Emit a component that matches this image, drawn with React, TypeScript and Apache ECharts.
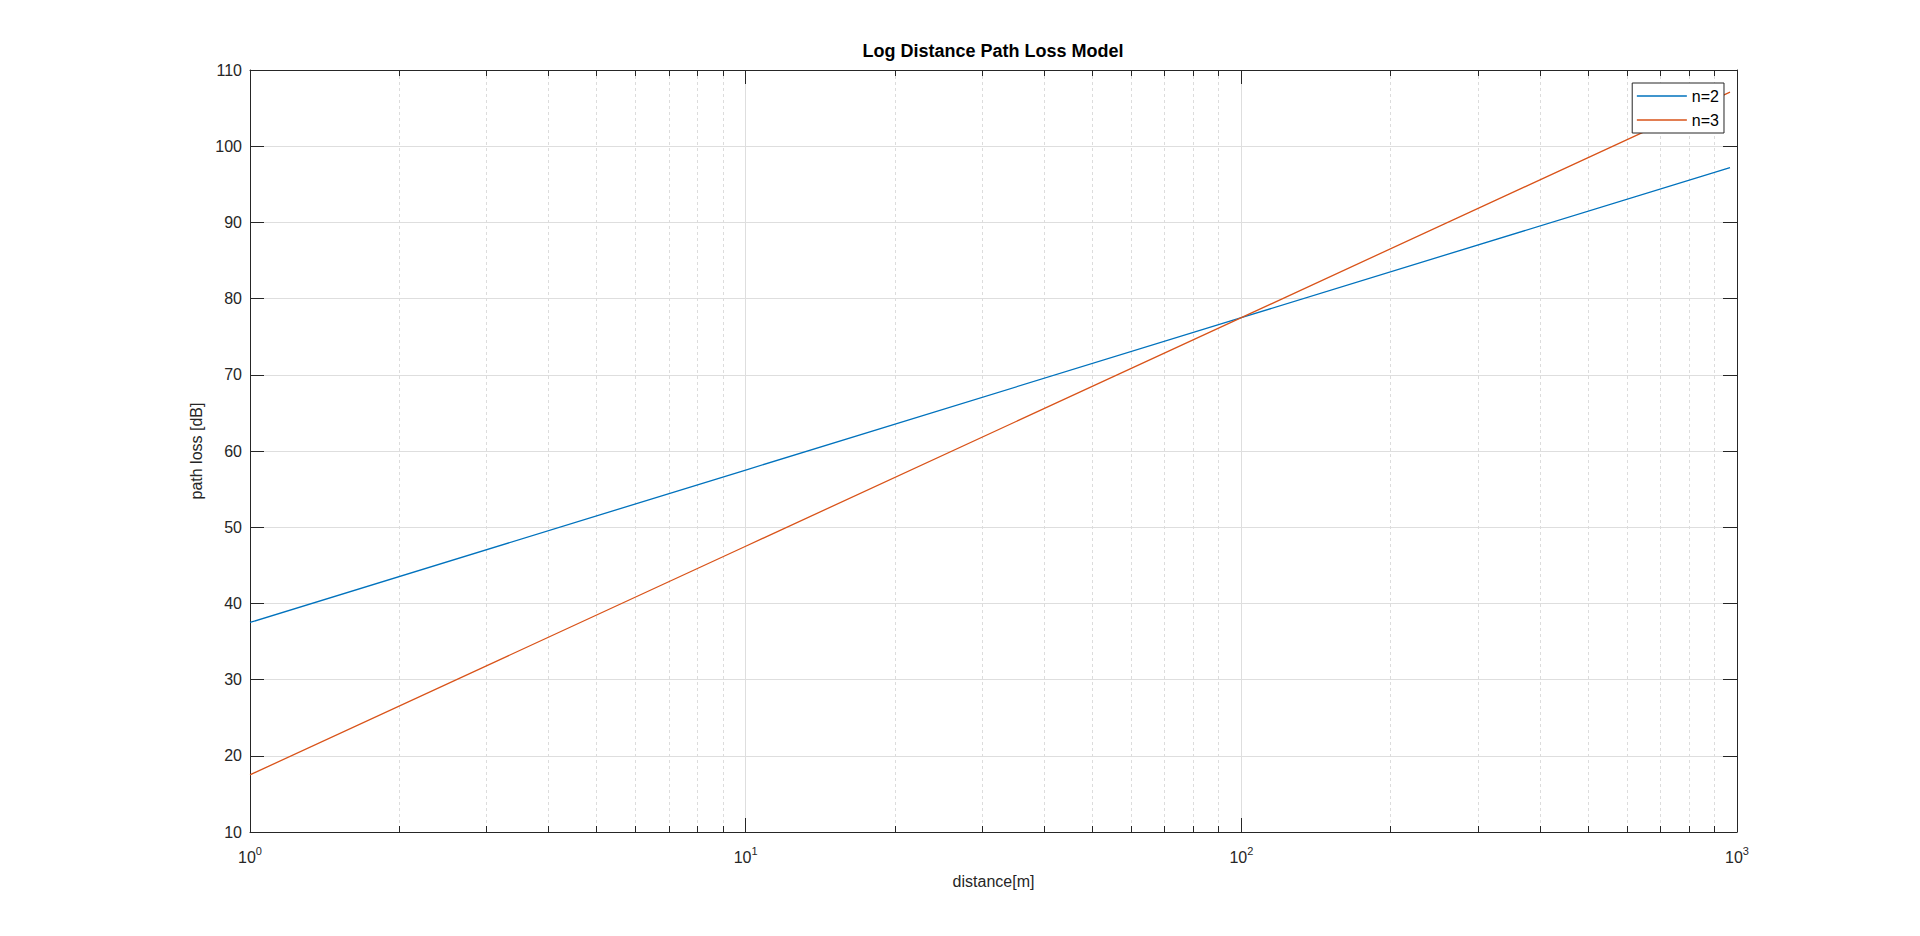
import React, { useEffect, useRef } from "react";
import * as echarts from "echarts";

// distance [m]
const distances: number[] = [1, 10, 100, 968];
// path loss [dB]
const lossN2: number[] = [37.5, 57.5, 77.5, 97.2];
const lossN3: number[] = [17.5, 47.5, 77.5, 107.1];
const seriesNames: string[] = ["n=2", "n=3"];
const yTicks = { min: 10, max: 110, interval: 10 };
const xRange = { min: 1, max: 1000 };

const FONT = "'Liberation Sans', Arial, Helvetica, sans-serif";
const AX = "#262626";
const GRID_MAJOR = "#dedede";
const GRID_MINOR = "#dcdcdc";

export default function App() {
  const ref = useRef<HTMLDivElement>(null);

  useEffect(() => {
    if (!ref.current) return;
    const chart = echarts.init(ref.current, undefined, { renderer: "svg" });

    const pair = (xs: number[], ys: number[]) => xs.map((x, i) => [x, ys[i]]);

    const xLabel = {
      show: true,
      margin: 13,
      formatter: (v: number) => {
        const e = Math.round(Math.log10(v));
        return `{b|10}{s|${e}}`;
      },
      rich: {
        b: { fontSize: 16, fontFamily: FONT, color: AX, lineHeight: 20, verticalAlign: "bottom" },
        s: { fontSize: 11, fontFamily: FONT, color: AX, lineHeight: 12, verticalAlign: "top" },
      },
    };

    const baseX = (pos: "bottom" | "top", main: boolean) => ({
      type: "log",
      logBase: 10,
      min: xRange.min,
      max: xRange.max,
      position: pos,
      gridIndex: 0,
      name: main ? "distance[m]" : "",
      nameLocation: "middle",
      nameGap: 41,
      nameTextStyle: { fontSize: 16, fontFamily: FONT, color: AX },
      axisLine: { show: true, onZero: false, lineStyle: { color: AX, width: 1 } },
      axisTick: { show: true, inside: true, length: 14, lineStyle: { color: AX, width: 1 } },
      minorTick: { show: true, splitNumber: 9, length: 6, lineStyle: { color: AX, width: 1 } },
      axisLabel: main ? xLabel : { show: false },
      splitLine: { show: main, lineStyle: { color: GRID_MAJOR, width: 1, type: "solid" } },
      minorSplitLine: { show: main, lineStyle: { color: GRID_MINOR, width: 1, type: [3, 3] } },
    });

    const baseY = (pos: "left" | "right", main: boolean) => ({
      type: "value",
      min: yTicks.min,
      max: yTicks.max,
      interval: yTicks.interval,
      position: pos,
      gridIndex: 0,
      name: main ? "path loss [dB]" : "",
      nameLocation: "middle",
      nameGap: 40,
      nameTextStyle: { fontSize: 16, fontFamily: FONT, color: AX },
      axisLine: { show: true, onZero: false, lineStyle: { color: AX, width: 1 } },
      axisTick: { show: true, inside: true, length: 14, lineStyle: { color: AX, width: 1 } },
      axisLabel: main
        ? { show: true, margin: 8, fontSize: 16, fontFamily: FONT, color: AX }
        : { show: false },
      splitLine: { show: main, lineStyle: { color: GRID_MAJOR, width: 1, type: "solid" } },
    });

    chart.setOption({
      animation: false,
      backgroundColor: "#ffffff",
      title: {
        text: "Log Distance Path Loss Model",
        left: 993,
        textAlign: "center",
        top: 42,
        padding: 0,
        textStyle: { fontSize: 18, fontWeight: "bold", fontFamily: FONT, color: "#000000" },
      },
      legend: {
        orient: "vertical",
        right: 196,
        top: 83,
        padding: [5, 5, 5, 4],
        itemWidth: 50,
        itemHeight: 14,
        itemGap: 8,
        borderColor: AX,
        borderWidth: 1,
        backgroundColor: "#ffffff",
        borderRadius: 0,
        itemStyle: { opacity: 0, borderWidth: 0 },
        lineStyle: { width: 1.3 },
        textStyle: { fontSize: 16, fontFamily: FONT, color: "#000000" },
        data: seriesNames,
      },
      grid: {
        left: 250,
        right: 183,
        top: 70,
        bottom: 104,
        containLabel: false,
        outerBoundsMode: "none",
      },
      xAxis: [baseX("bottom", true), baseX("top", false)],
      yAxis: [baseY("left", true), baseY("right", false)],
      series: [
        {
          name: seriesNames[0],
          type: "line",
          xAxisIndex: 0,
          yAxisIndex: 0,
          symbol: "none",
          showSymbol: false,
          color: "#0072BD",
          lineStyle: { color: "#0072BD", width: 1.3 },
          data: pair(distances, lossN2),
          z: 3,
        },
        {
          name: seriesNames[1],
          type: "line",
          xAxisIndex: 0,
          yAxisIndex: 0,
          symbol: "none",
          showSymbol: false,
          color: "#D95319",
          lineStyle: { color: "#D95319", width: 1.3 },
          data: pair(distances, lossN3),
          z: 3,
        },
      ],
    });

    return () => chart.dispose();
  }, []);

  return (
    <div
      ref={ref}
      style={{ position: "fixed", left: 0, top: 0, width: "1920px", height: "936px", background: "#fff" }}
    />
  );
}
